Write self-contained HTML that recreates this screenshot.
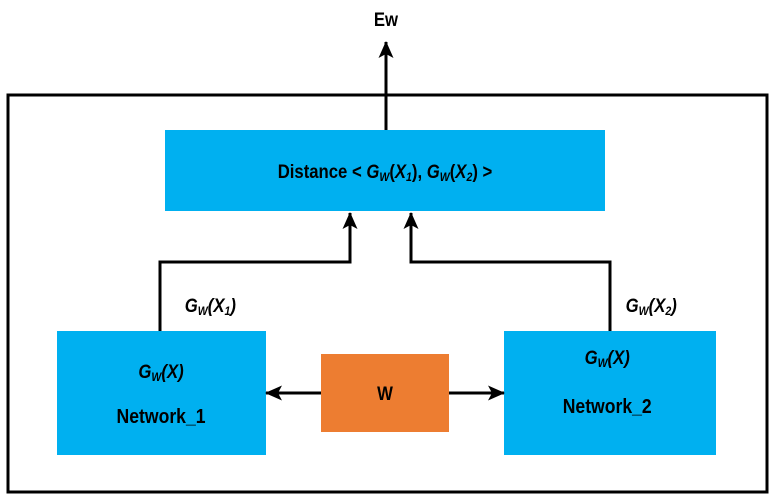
<!DOCTYPE html>
<html><head><style>
body{margin:0;background:#fff;}
svg{display:block}
text{font-family:"Liberation Sans",Arial,sans-serif;font-weight:bold;fill:#000}
</style></head><body>
<svg width="772" height="499" viewBox="0 0 772 499" xmlns="http://www.w3.org/2000/svg">
<defs>
<marker id="a" markerWidth="17" markerHeight="15" refX="16" refY="7.5" orient="auto" markerUnits="userSpaceOnUse">
<path d="M0,0 L17,7.5 L0,15 L4,7.5 Z" fill="#000"/>
</marker>
</defs>
<rect x="8" y="95" width="759" height="397" fill="none" stroke="#000" stroke-width="3"/>
<rect x="165" y="130" width="440" height="81" fill="#00b0f0"/>
<rect x="57" y="331" width="209" height="124" fill="#00b0f0"/>
<rect x="504" y="331" width="212" height="124" fill="#00b0f0"/>
<rect x="321" y="354" width="128" height="78" fill="#ed7d31"/>
<g stroke="#000" stroke-width="3" fill="none">
<line x1="386" y1="130" x2="386" y2="42" marker-end="url(#a)"/>
<polyline points="160,331 160,262 350,262 350,213" marker-end="url(#a)"/>
<polyline points="610,331 610,262 411,262 411,213" marker-end="url(#a)"/>
<line x1="321" y1="393" x2="266" y2="393" marker-end="url(#a)"/>
<line x1="449" y1="393" x2="504" y2="393" marker-end="url(#a)"/>
</g>
<g transform="scale(0.88,1)">
<text x="438.6" y="26" font-size="19" text-anchor="middle">Ew</text>
<text x="437.5" y="178" font-size="19" text-anchor="middle">Distance &lt; <tspan font-style="italic">G</tspan><tspan font-style="italic" font-size="12" dy="3">W</tspan><tspan dy="-3">(</tspan><tspan font-style="italic">X</tspan><tspan font-style="italic" font-size="12" dy="3">1</tspan><tspan dy="-3">), </tspan><tspan font-style="italic">G</tspan><tspan font-style="italic" font-size="12" dy="3">W</tspan><tspan dy="-3">(</tspan><tspan font-style="italic">X</tspan><tspan font-style="italic" font-size="12" dy="3">2</tspan><tspan dy="-3">) &gt;</tspan></text>
<text x="210" y="312" font-size="19" font-style="italic">G<tspan font-size="12" dy="3">W</tspan><tspan dy="-3">(X</tspan><tspan font-size="12" dy="3">1</tspan><tspan dy="-3">)</tspan></text>
<text x="711" y="312" font-size="19" font-style="italic">G<tspan font-size="12" dy="3">W</tspan><tspan dy="-3">(X</tspan><tspan font-size="12" dy="3">2</tspan><tspan dy="-3">)</tspan></text>
<text x="183" y="378" font-size="19" font-style="italic" text-anchor="middle">G<tspan font-size="12" dy="3">W</tspan><tspan dy="-3">(X)</tspan></text>
<text x="183" y="423" font-size="20" text-anchor="middle">Network_1</text>
<text x="690" y="364" font-size="19" font-style="italic" text-anchor="middle">G<tspan font-size="12" dy="3">W</tspan><tspan dy="-3">(X)</tspan></text>
<text x="690" y="413" font-size="20" text-anchor="middle">Network_2</text>
<text x="437.5" y="400" font-size="19" text-anchor="middle">W</text>
</g>
</svg>
</body></html>
